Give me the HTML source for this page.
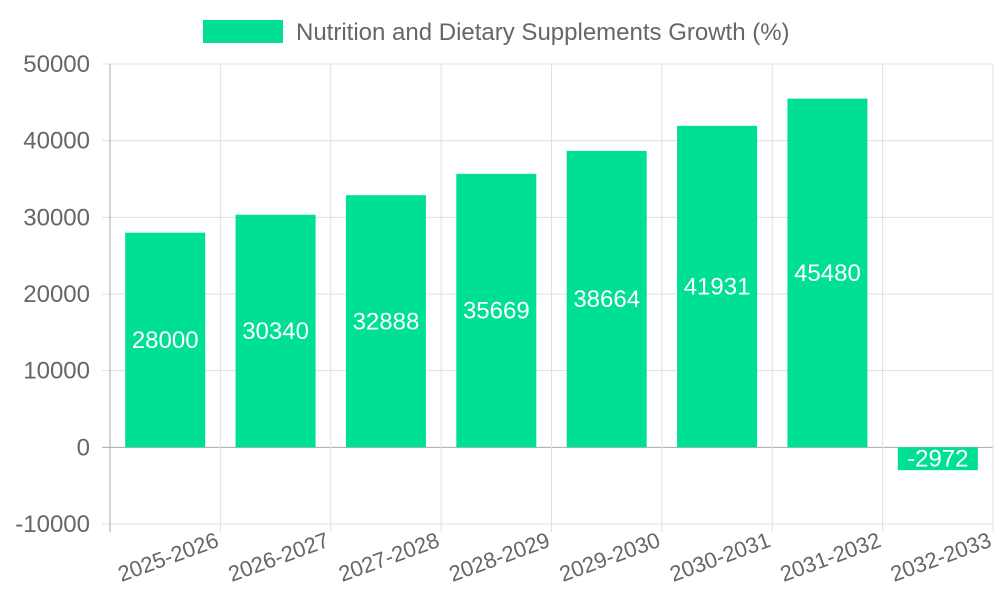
<!DOCTYPE html>
<html><head><meta charset="utf-8"><style>
body{margin:0;background:#fff}
svg{font-family:"Liberation Sans",sans-serif}
</style></head><body>
<svg id="chart" width="1000" height="600">
<g>
<rect x="203" y="20" width="80" height="23" fill="#00e095"/>
<text x="296" y="40" font-size="24" fill="#666">Nutrition and Dietary Supplements Growth (%)</text>
</g>
<g id="grid"></g><g id="bars"></g><g id="labels"></g>
</svg>
<script>
const categories=["2025-2026","2026-2027","2027-2028","2028-2029","2029-2030","2030-2031","2031-2032","2032-2033"];
const values=[28000,30340,32888,35669,38664,41931,45480,-2972];
const yTicks=[50000,40000,30000,20000,10000,0,-10000];
const NS="http://www.w3.org/2000/svg";
const plotLeft=110,plotRight=993,plotTop=64,plotBottom=524,yMax=50000,yMin=-10000;
const yScale=v=>plotTop+(yMax-v)/(yMax-yMin)*(plotBottom-plotTop);
const bw=(plotRight-plotLeft)/categories.length;
const xScale=i=>plotLeft+i*bw;
function mk(tag,attrs,parent){const e=document.createElementNS(NS,tag);for(const k in attrs)e.setAttribute(k,attrs[k]);document.getElementById(parent).appendChild(e);return e;}
yTicks.forEach(t=>{
 const l=mk('line',{x1:plotLeft-8,x2:plotRight,y1:yScale(t),y2:yScale(t),stroke:t===0?'#aaa':'#e0e0e0','stroke-width':1},'grid');
 
 
 const tx=mk('text',{x:plotLeft-20,y:yScale(t)+8,'text-anchor':'end','font-size':24,fill:'#666'},'labels');
 tx.textContent=t;
 
 
});
for(let i=0;i<=categories.length;i++){
 const l=mk('line',{x1:xScale(i),x2:xScale(i),y1:plotTop,y2:plotBottom+8,stroke:i===0?'#aaa':'#e0e0e0','stroke-width':1},'grid');
 
 
}
categories.forEach((c,i)=>{
 const v=values[i];
 const cx=xScale(i)+bw/2;
 const y0=yScale(0),y1=yScale(v);
 const r=mk('rect',{x:cx-40,y:Math.min(y0,y1),width:80,height:Math.abs(y1-y0),fill:'#00e095'},'bars');
 
 
 const vt=mk('text',{x:cx,y:(y0+y1)/2+8,'text-anchor':'middle','font-size':24,fill:'#fff'},'labels');
 vt.textContent=v;
 
 
 const ex=xScale(i)+bw/2+55, ey=plotBottom+22;
 const xt=mk('text',{x:ex,y:ey,'text-anchor':'end','font-size':22,fill:'#666',transform:`rotate(-20 ${ex} ${ey})`},'labels');
 xt.textContent=c;
 
 
});
</script>
</body></html>
